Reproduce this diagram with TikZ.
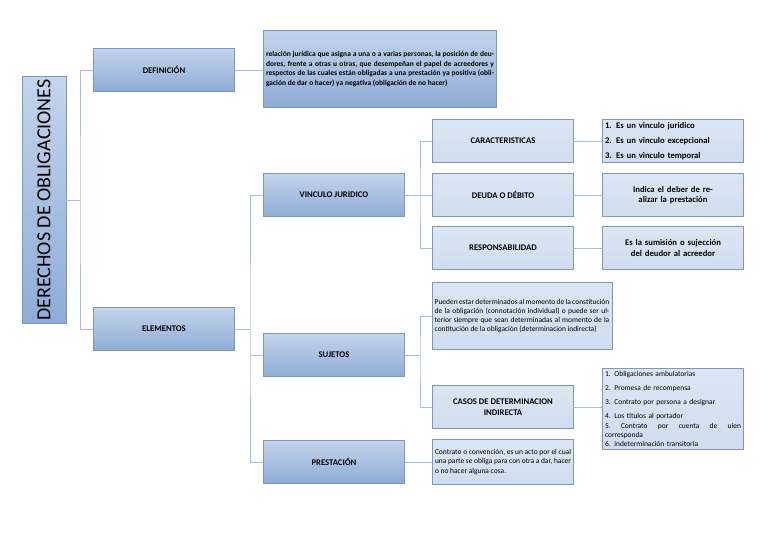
\documentclass[tikz,border=0pt]{standalone}
\usepackage{fontspec}
\setmainfont{Carlito}
\usetikzlibrary{positioning}
\definecolor{linea}{HTML}{A7BEDC}
\definecolor{borde}{HTML}{7F97B8}
\definecolor{oscuro}{HTML}{8EACD6}
\definecolor{medio}{HTML}{C3D4EC}
\definecolor{claro}{HTML}{DCE6F3}
\tikzset{
  nivel/.style={draw=borde, top color=medio, bottom color=oscuro, font=\fontsize{6.5}{8}\selectfont\bfseries,
    minimum width=106pt, minimum height=32pt, align=center, inner sep=2pt},
  hoja/.style={draw=borde, top color=claro, bottom color=medio!80, font=\fontsize{6.5}{8}\selectfont\bfseries,
    minimum width=106pt, minimum height=32pt, align=center, inner sep=2pt},
  nota/.style={draw=borde, top color=claro, bottom color=medio!80, font=\fontsize{5.6}{6.8}\selectfont,
    align=justify, inner sep=2pt},
  rama/.style={draw=linea, line width=0.6pt}
}
\begin{document}
\begin{tikzpicture}[x=0.75pt,y=-0.75pt]
\useasboundingbox (0,0) rectangle (768,543);

\node[nivel, rotate=90, minimum width=170pt, minimum height=33pt, font=\fontsize{15}{17}\selectfont]
  (titulo) at (44,200) {DERECHOS DE OBLIGACIONES};

\node[nivel] (def) at (164,70) {DEFINICIÓN};
\node[nivel] (ele) at (164,329) {ELEMENTOS};
\node[nota, font=\fontsize{5.6}{7.2}\selectfont\bfseries, text width=171pt, minimum height=58pt,
  top color=medio, bottom color=oscuro] (deftx) at (380,69)
  {relación jurídica que asigna a una o a varias personas, la posición de deudores, frente a otras u otras, que desempeñan el papel de acreedores y respectos de las cuales están obligadas a una prestación ya positiva (obligación de dar o hacer) ya negativa (obligación de no hacer)};

\node[nivel] (vin) at (334,195) {VINCULO JURIDICO};
\node[nivel] (suj) at (334,355) {SUJETOS};
\node[nivel] (pre) at (334,462) {PRESTACIÓN};

\node[hoja] (car) at (503,141) {CARACTERISTICAS};
\node[hoja] (deu) at (503,195) {DEUDA O DÉBITO};
\node[hoja] (res) at (503,248) {RESPONSABILIDAD};
\node[hoja, align=left, font=\fontsize{6.5}{11}\selectfont\bfseries, text width=102pt] (cartx) at (673,141)
  {1. Es un vinculo juridico\\ 2. Es un vinculo excepcional\\ 3. Es un vinculo temporal};
\node[hoja, text width=102pt] (deutx) at (673,195) {Indica el deber de realizar la prestación};
\node[hoja, text width=102pt] (restx) at (673,248) {Es la sumisión o sujección del deudor al acreedor};

\node[nota, text width=131pt, minimum height=50pt] (sujtx) at (522,316)
  {Pueden estar determinados al momento de la constitución de la obligación (connotación individual) o puede ser ulterior siempre que sean determinadas al momento de la contitución de la obligación (determinacion indirecta)};
\node[hoja] (cas) at (503,407) {CASOS DE DETERMINACION\\ INDIRECTA};
\node[nota, align=left, text width=102pt, font=\fontsize{5.6}{10.6}\selectfont] (castx) at (673,409)
  {1. Obligaciones ambulatorias\\ 2. Promesa de recompensa\\ 3. Contrato por persona a designar\\ 4. Los títulos al portador\\
   \parbox{102pt}{\baselineskip=6.8pt 5.\hfill Contrato\hfill por\hfill cuenta\hfill de\hfill uien\\ corresponda}\\ 6. indeterminación transitoria};
\node[nota, text width=102pt, minimum height=34pt] (pretx) at (503,462)
  {Contrato o convención, es un acto por el cual una parte se obliga para con otra a dar, hacer o no hacer alguna cosa.};

\coordinate (j1) at (80,200);
\coordinate (j2) at (250,329);
\coordinate (j3) at (420,195);
\coordinate (j4) at (420,355);

\draw[rama] (titulo.south) -- (j1);
\draw[rama] (def.west) -| (j1) |- (ele.west);
\draw[rama] (def.east) -- (deftx.west |- def.east);
\draw[rama] (ele.east) -- (j2);
\draw[rama] (vin.west) -| (j2) |- (pre.west);
\draw[rama] (suj.west) -- (suj.west -| j2);
\draw[rama] (vin.east) -- (j3);
\draw[rama] (car.west) -| (j3) |- (res.west);
\draw[rama] (deu.west) -- (j3);
\draw[rama] (suj.east) -- (j4);
\draw[rama] (sujtx.west) -| (j4) |- (cas.west);
\draw[rama] (car.east) -- (cartx.west);
\draw[rama] (deu.east) -- (deutx.west);
\draw[rama] (res.east) -- (restx.west);
\draw[rama] (cas.east) -- (cas.east -| castx.west);
\draw[rama] (pre.east) -- (pretx.west);
\end{tikzpicture}
\end{document}
